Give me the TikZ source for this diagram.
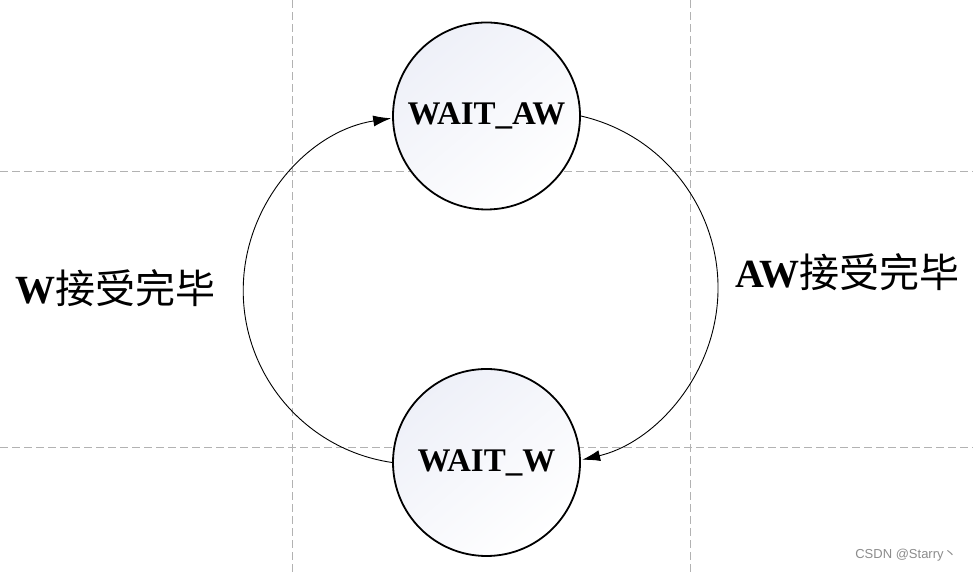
\documentclass[tikz,border=0pt]{standalone}
\usepackage{fontspec}
\setmainfont{Liberation Serif}
\setsansfont{Liberation Sans}
\newfontfamily\cjk{Noto Sans CJK SC}
\usetikzlibrary{arrows.meta}
\begin{document}
\begin{tikzpicture}[x=1pt,y=1pt,
  gridline/.style={draw=black!30, line width=0.9pt, dash pattern=on 8pt off 4pt},
  state/.style={circle, draw=black, line width=1.8pt, minimum size=187pt, inner sep=0pt,
    top color={rgb,255:red,238;green,240;blue,248}, bottom color=white, shading angle=40,
    font=\fontsize{33}{38}\selectfont\bfseries},
  trans/.style={line width=0.9pt, -{Latex[length=18pt,width=11pt]}},
  lbl/.style={font=\fontsize{40}{46}\selectfont, inner sep=0pt}]
\useasboundingbox (0,0) rectangle (973,572);
\fill[white] (0,0) rectangle (973,572);
% background dashed grid
\draw[gridline] (292,0) -- (292,572);
\draw[gridline] (690,0) -- (690,572);
\draw[gridline] (0,401) -- (973,401);
\draw[gridline] (0,125) -- (973,125);
% states
\node[state] (aw) at (486.5,456) {WAIT\_AW};
\node[state] (w) at (486.5,109.5) {WAIT\_W};
% transitions
\draw[trans] (aw.east) arc[start angle=77.1, end angle=-76.7, radius=176.5];
\draw[trans] (w.west) arc[start angle=261.7, end angle=98.6, radius=174];
% labels
\node[lbl] (lw) at (115.5,284) {{\bfseries W}{\cjk 接受完毕}};
\node[lbl] (law) at (847.5,300) {{\bfseries AW}{\cjk 接受完毕}};
\node[font=\fontsize{13}{15}\selectfont, text=black!45, inner sep=0pt] (wm) at (906,17)
  {\sffamily CSDN @Starry{\cjk 丶}};
\end{tikzpicture}
\end{document}
